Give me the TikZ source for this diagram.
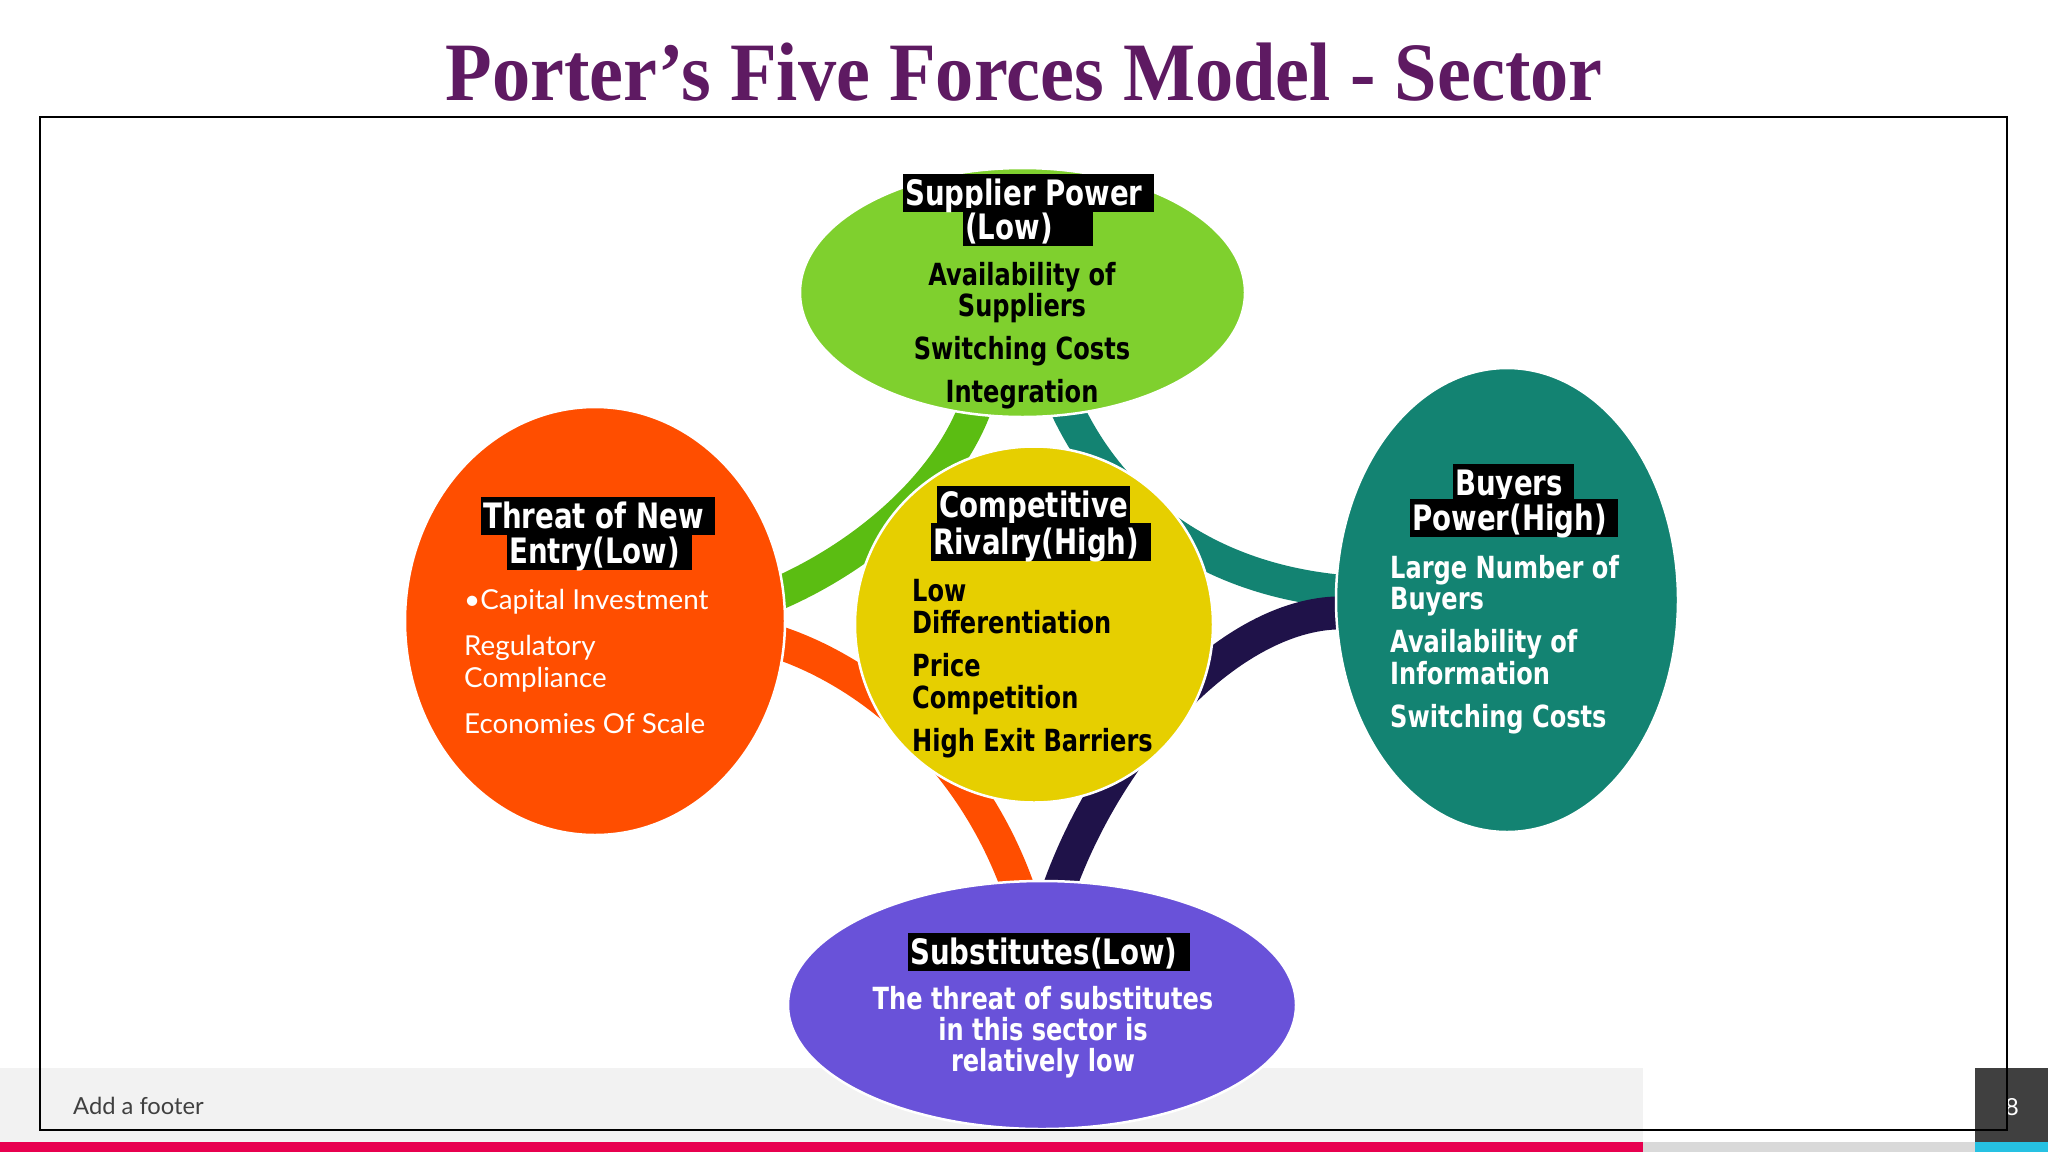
\documentclass[tikz,border=0pt]{standalone}
\usepackage{fontspec}
\usetikzlibrary{shapes.geometric}
\pgfdeclarelayer{bg}
\pgfsetlayers{bg,main}
\newfontfamily\dvs[FakeStretch=0.79]{DejaVu Sans}
\newfontfamily\latofam[FakeStretch=1.01]{Lato}
\newfontfamily\ttlfam[FakeStretch=0.92]{Liberation Serif}
\newcommand\hdfnt{\dvs\bfseries\fontsize{35}{37}\selectfont}
\newcommand\bdfnt{\dvs\bfseries\fontsize{30.5}{32}\selectfont}
\newcommand\rgfnt{\latofam\fontsize{27.5}{32}\selectfont}
\newcommand\ttlfnt{\ttlfam\bfseries\fontsize{83}{90}\selectfont}
\newcommand\ftfnt{\latofam\fontsize{23.5}{26}\selectfont}
\definecolor{supgreen}{HTML}{7FD02E}
\definecolor{bandgreen}{HTML}{5BBD12}
\definecolor{throrange}{HTML}{FF4E00}
\definecolor{compyellow}{HTML}{E6CF00}
\definecolor{buyteal}{HTML}{138372}
\definecolor{navyband}{HTML}{1F1249}
\definecolor{subpurple}{HTML}{6952D9}
\definecolor{titlepurple}{HTML}{5E1A62}
\definecolor{footgray}{HTML}{F2F2F2}
\definecolor{footdark}{HTML}{404040}
\definecolor{stripepink}{HTML}{E8004F}
\definecolor{stripegray}{HTML}{D9D9D9}
\definecolor{stripecyan}{HTML}{26C1E2}
\tikzset{
  blob/.style={ellipse, draw=white, line width=2.5pt, inner sep=0pt},
  hdr/.style={fill=black, text=white, font=\hdfnt, inner xsep=2pt, inner ysep=0pt,
              text height=31pt, text depth=7pt, anchor=base west},
  bodyb/.style={font=\bdfnt, inner sep=0pt, anchor=base},
  bodybl/.style={font=\bdfnt, inner sep=0pt, anchor=base west},
  bodyrl/.style={font=\rgfnt, inner sep=0pt, anchor=base west, text=white},
  band/.style={line width=33pt, line cap=butt, shorten <=-16pt, shorten >=-16pt},
}
\begin{document}
\begin{tikzpicture}[x=1pt,y=-1pt]
\useasboundingbox (0,0) rectangle (2048,1152);
% title
\node (title) [anchor=base, font=\ttlfnt, text=titlepurple, inner sep=0pt] at (1024,100) {Porter’s Five Forces Model - Sector};
% ellipses
\node (sup)  [blob, fill=supgreen,   minimum width=445, minimum height=249] at (1022.5,292.5) {};
\node (thr)  [blob, fill=throrange,  minimum width=380, minimum height=428] at (595,621) {};
\node (buy)  [blob, fill=buyteal,    minimum width=342, minimum height=464] at (1507,600) {};
\node (sub)  [blob, fill=subpurple,  minimum width=508, minimum height=248] at (1042,1005) {};
\node (comp) [blob, fill=compyellow, minimum width=358, minimum height=356] at (1034,624.5) {};
% supplier
\node (suph1) [hdr] at (903,205) {Supplier Power\hspace*{9pt}};
\node (suph2) [hdr] at (963,239) {(Low)\hspace*{38pt}};
\node (supb1) [bodyb] at (1022,285) {Availability of};
\node (supb2) [bodyb] at (1022,316) {Suppliers};
\node (supb3) [bodyb] at (1022,359) {Switching Costs};
\node (supb4) [bodyb] at (1022,402) {Integration};
% threat
\node (thrh1) [hdr] at (481,528) {Threat of New\hspace*{9pt}};
\node (thrh2) [hdr] at (507,563) {Entry(Low)\hspace*{10pt}};
\node (thrb1) [bodyrl] at (464,609) {•Capital Investment};
\node (thrb2) [bodyrl] at (464,655) {Regulatory};
\node (thrb3) [bodyrl] at (464,687) {Compliance};
\node (thrb4) [bodyrl] at (464,733) {Economies Of Scale};
% competitive
\node (comph1) [hdr] at (937,517) {Competitive};
\node (comph2) [hdr] at (931,554) {Rivalry(High)\hspace*{10pt}};
\node (compb1) [bodybl] at (912,601) {Low};
\node (compb2) [bodybl] at (912,633) {Differentiation};
\node (compb3) [bodybl] at (912,676) {Price};
\node (compb4) [bodybl] at (912,708) {Competition};
\node (compb5) [bodybl] at (912,751) {High Exit Barriers};
% buyers
\node (buyh1) [hdr] at (1453,495) {Buyers\hspace*{9pt}};
\node (buyh2) [hdr] at (1410,530) {Power(High)\hspace*{9pt}};
\node (buyb1) [bodybl, text=white] at (1390,578) {Large Number of};
\node (buyb2) [bodybl, text=white] at (1390,609) {Buyers};
\node (buyb3) [bodybl, text=white] at (1390,652) {Availability of};
\node (buyb4) [bodybl, text=white] at (1390,684) {Information};
\node (buyb5) [bodybl, text=white] at (1390,727) {Switching Costs};
% substitutes
\node (subh1) [hdr] at (908,964) {Substitutes(Low)\hspace*{10pt}};
\node (subb1) [bodyb, text=white] at (1043,1009) {The threat of substitutes};
\node (subb2) [bodyb, text=white] at (1043,1040) {in this sector is};
\node (subb3) [bodyb, text=white] at (1043,1071) {relatively low};
% footer texts
\node (foot) [anchor=base west, font=\ftfnt, text=footdark, inner sep=0pt] at (73,1114) {Add a footer};
\node (pgnum) [anchor=base, font=\ftfnt, text=white, inner sep=0pt] at (2012,1115) {8};
\begin{pgfonlayer}{bg}
\fill[white] (0,0) rectangle (2048,1152);
\fill[footgray] (0,1068) rectangle (1643,1142);
\fill[footdark] (1975,1068) rectangle (2048,1142);
\fill[stripepink] (0,1142) rectangle (1643,1152);
\fill[stripegray] (1643,1142) rectangle (1975,1152);
\fill[stripecyan] (1975,1142) rectangle (2048,1152);
\draw[band, draw=bandgreen] (sup.248) .. controls (950,485) and (860,560) .. (thr.9);
\draw[band, draw=buyteal] (sup.291) .. controls (1100,485) and (1185,580) .. (buy.177);
\draw[band, draw=throrange] (thr.353) .. controls (870,670) and (975,760) .. (sub.102);
\draw[band, draw=navyband] (buy.184) .. controls (1240,605) and (1110,740) .. (sub.81);
\end{pgfonlayer}
\draw[line width=2pt] (40,117) rectangle (2007,1130);
\end{tikzpicture}
\end{document}
